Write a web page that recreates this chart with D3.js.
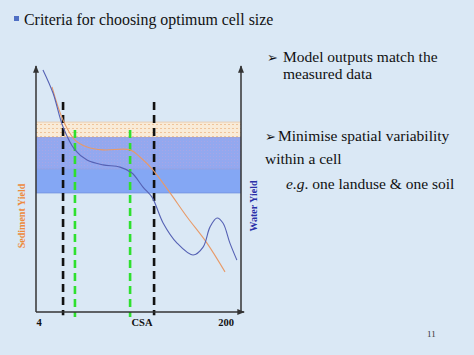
<!DOCTYPE html>
<html><head><meta charset="utf-8">
<script src="https://cdn.jsdelivr.net/npm/d3@7"></script>
<style>html,body{margin:0;padding:0;background:#dae8f5;}svg{display:block;}</style>
</head><body>
<svg id="c" width="474" height="355"></svg>
<script>
// ---- data ----
const waterX = [3.4, 8.3, 13.2, 19, 24.9, 32.7, 41, 46.8, 52.2, 56.6, 62, 68.8, 76.6, 81.5, 84.9, 88.3, 91.2, 94.6, 98];
const waterY = [98.4, 89, 75.2, 65.9, 61.8, 59.8, 58.9, 56.5, 50.8, 46.7, 36.2, 28, 23.2, 26.4, 34.6, 38.2, 36.2, 28, 21.1];
const sedX = [7.8, 13.2, 19, 24.9, 32.7, 45.9, 50.7, 57.1, 65.4, 73.7, 83.4, 92.2];
const sedY = [91.5, 78, 69.9, 67.1, 65.9, 65.9, 63, 57.7, 48.4, 38.6, 28, 16.3];
const bandNames = ["sediment range", "water range upper", "water range lower"];
const bandLo = [70.9, 58.1, 48.4];
const bandHi = [77.2, 70.9, 58.1];
const blackX = [13.2, 57.6];
const blackTop = 85.4;
const greenX = [19, 45.9];
const greenTop = 74;
const tickLabels = ["4", "CSA", "200"];
const tickPos = [1.5, 51.7, 92.7];

const svg = d3.select("#c");
const defs = svg.append("defs");
const p1 = defs.append("pattern").attr("id","dotO").attr("width",4).attr("height",4).attr("patternUnits","userSpaceOnUse");
p1.append("rect").attr("width",4).attr("height",4).attr("fill","#f9ebd8");
p1.append("rect").attr("x",0).attr("y",0).attr("width",2).attr("height",1).attr("fill","#efc49a");
const p2 = defs.append("pattern").attr("id","dotB").attr("width",3).attr("height",3).attr("patternUnits","userSpaceOnUse");
p2.append("rect").attr("width",3).attr("height",3).attr("fill","#93a8ef");
p2.append("rect").attr("x",0).attr("y",0).attr("width",1).attr("height",1).attr("fill","#a7a6e6");
defs.append("marker").attr("id","arr").attr("viewBox","0 0 10 10").attr("refX",9).attr("refY",5)
  .attr("markerWidth",5).attr("markerHeight",5).attr("orient","auto")
  .append("path").attr("d","M0,1L10,5L0,9Z").attr("fill","#333");

const x = d3.scaleLinear().domain([0,100]).range([36,241]);
const y = d3.scaleLinear().domain([0,100]).range([312,66]);
const tf = "'Liberation Serif', 'Times New Roman', 'DejaVu Serif', serif";

// title
svg.append("rect").attr("x",14).attr("y",16).attr("width",5).attr("height",5).attr("fill","#4f6fc4");
svg.append("text").attr("x",24).attr("y",25).style("font-family",tf).attr("font-size",15.9)
  .attr("fill","#111").text("Criteria for choosing optimum cell size");

// bands
const fills = ["url(#dotO)","url(#dotB)","#84a7f4"];
svg.selectAll("rect.band").data(bandNames).enter().append("rect").attr("class","band")
  .attr("x",x(0)).attr("width",x(100)-x(0))
  .attr("y",(d,i)=>y(bandHi[i])).attr("height",(d,i)=>y(bandLo[i])-y(bandHi[i]))
  .attr("fill",(d,i)=>fills[i]);
svg.append("line").attr("x1",x(0)).attr("x2",x(100)).attr("y1",y(bandHi[0])).attr("y2",y(bandHi[0])).attr("stroke","#e8c8a8").attr("stroke-width",0.8);
svg.append("line").attr("x1",x(0)).attr("x2",x(100)).attr("y1",y(bandLo[0])).attr("y2",y(bandLo[0])).attr("stroke","#8a96d8").attr("stroke-width",0.8);
svg.append("line").attr("x1",x(0)).attr("x2",x(100)).attr("y1",y(bandLo[1])).attr("y2",y(bandLo[1])).attr("stroke","#8f9fe0").attr("stroke-width",0.8);
svg.append("line").attr("x1",x(0)).attr("x2",x(100)).attr("y1",y(bandLo[2])).attr("y2",y(bandLo[2])).attr("stroke","#6f8fe0").attr("stroke-width",0.8);

// dashed verticals
svg.selectAll("line.blk").data(blackX).enter().append("line")
  .attr("x1",d=>x(d)).attr("x2",d=>x(d)).attr("y1",y(blackTop)).attr("y2",y(-1.3))
  .attr("stroke","#111").attr("stroke-width",2.6).attr("stroke-dasharray","8,5");
svg.selectAll("line.grn").data(greenX).enter().append("line")
  .attr("x1",d=>x(d)).attr("x2",d=>x(d)).attr("y1",y(greenTop)).attr("y2",y(-2))
  .attr("stroke","#2ee02e").attr("stroke-width",2.6).attr("stroke-dasharray","8,5");

// curves
const line = d3.line().x(d=>x(d[0])).y(d=>y(d[1])).curve(d3.curveCatmullRom);
svg.append("path").datum(sedX.map((v,i)=>[v,sedY[i]])).attr("d",line)
  .attr("fill","none").attr("stroke","#e89a68").attr("stroke-width",1.1);
svg.append("path").datum(waterX.map((v,i)=>[v,waterY[i]])).attr("d",line)
  .attr("fill","none").attr("stroke","#5561b4").attr("stroke-width",1.1);

// axes
svg.append("line").attr("x1",x(0)).attr("x2",x(0)).attr("y1",y(0)).attr("y2",y(100)).attr("stroke","#333").attr("stroke-width",1.5).attr("marker-end","url(#arr)");
svg.append("line").attr("x1",x(100)).attr("x2",x(100)).attr("y1",y(0)).attr("y2",y(100)).attr("stroke","#333").attr("stroke-width",1.5).attr("marker-end","url(#arr)");
svg.append("line").attr("x1",x(0)).attr("x2",x(101.5)).attr("y1",y(0)).attr("y2",y(0)).attr("stroke","#333").attr("stroke-width",1.5).attr("marker-end","url(#arr)");

// tick labels
svg.selectAll("text.tk").data(tickLabels).enter().append("text")
  .attr("x",(d,i)=>x(tickPos[i])).attr("y",326).attr("text-anchor","middle")
  .style("font-family",tf).attr("font-weight","bold").attr("font-size",10.5).attr("fill","#111").text(d=>d);

// axis titles
svg.append("text").attr("transform","translate(25,216) rotate(-90)").attr("text-anchor","middle")
  .style("font-family",tf).attr("font-weight","bold").attr("font-size",10).attr("fill","#ee8a3c").text("Sediment Yield");
svg.append("text").attr("transform","translate(257,206) rotate(-90)").attr("text-anchor","middle")
  .style("font-family",tf).attr("font-weight","bold").attr("font-size",10).attr("fill","#2a2fa8").text("Water Yield");

// right text
svg.append("text").attr("x",267).attr("y",62).style("font-family","'DejaVu Sans'").attr("font-size",13).attr("fill","#111").text("➢");
svg.append("text").attr("x",283).attr("y",62).style("font-family",tf).attr("font-size",15.5).attr("fill","#111").text("Model outputs match the");
svg.append("text").attr("x",283).attr("y",79).style("font-family",tf).attr("font-size",15.5).attr("fill","#111").text("measured data");
svg.append("text").attr("x",265).attr("y",141).style("font-family","'DejaVu Sans'").attr("font-size",13).attr("fill","#111").text("➢");
svg.append("text").attr("x",278).attr("y",141).style("font-family",tf).attr("font-size",15.5).attr("fill","#111").text("Minimise spatial variability");
svg.append("text").attr("x",265).attr("y",164).style("font-family",tf).attr("font-size",15.5).attr("fill","#111").text("within a cell");
const t3 = svg.append("text").attr("x",286).attr("y",189).style("font-family",tf).attr("font-size",15.5).attr("fill","#111");
t3.append("tspan").attr("font-style","italic").text("e.g");
t3.append("tspan").text(". one landuse & one soil");

svg.append("text").attr("x",427).attr("y",337).style("font-family",tf).attr("font-size",9).attr("fill","#333").text("11");
</script>
</body></html>
